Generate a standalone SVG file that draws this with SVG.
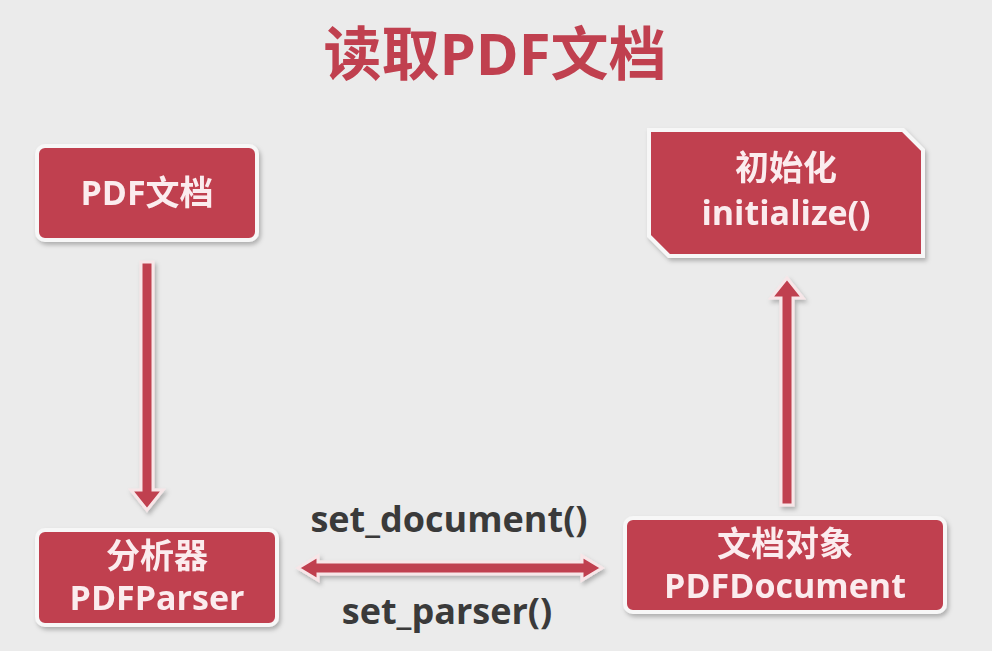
<svg xmlns="http://www.w3.org/2000/svg" width="992" height="651" viewBox="0 0 992 651">
<style>
.box{fill:#c0404f;stroke:#f7f7f7;stroke-width:4}
.bt{font-family:"Open Sans","Noto Sans CJK SC",sans-serif;font-weight:bold;fill:#fbecee;text-anchor:middle;font-size:34px}
.lbl{font-family:"Open Sans","Noto Sans CJK SC",sans-serif;font-weight:bold;fill:#3a3a3a;text-anchor:middle;font-size:36px}
.arr{fill:#c0404f;stroke:#f7e6e8;stroke-width:3}
</style>
<defs><filter id="sh" x="-10%" y="-10%" width="130%" height="130%"><feDropShadow dx="2" dy="3" stdDeviation="2" flood-color="#000" flood-opacity="0.25"/></filter></defs>
<rect width="992" height="651" fill="#ebebeb"/>
<text x="495" y="75" font-family="'Open Sans','Noto Sans CJK SC',sans-serif" font-weight="bold" font-size="58" fill="#c0404f" text-anchor="middle">读取PDF文档</text>
<g id="connectors">
<g filter="url(#sh)">
<polygon class="arr" points="141,262 153,262 153,490 163,490 147,510 131,490 141,490"/>
<polygon class="arr" points="781,505 793,505 793,298 803,298 787,278 771,298 781,298"/>
<polygon class="arr" points="298,568 318,556 318,562 582,562 582,556 602,568 582,580 582,574 318,574 318,580"/>
</g>
<text class="lbl" x="449" y="532">set_document()</text>
<text class="lbl" x="447" y="624">set_parser()</text>
</g>
<g id="n1" filter="url(#sh)"><rect class="box" x="37" y="146" width="220" height="94" rx="8"/><text class="bt" x="147" y="205">PDF文档</text></g>
<g id="n2" filter="url(#sh)"><rect class="box" x="37" y="530" width="240" height="95" rx="8"/><text class="bt" x="157" y="568">分析器</text><text class="bt" x="157" y="610">PDFParser</text></g>
<g id="n3" filter="url(#sh)"><rect class="box" x="625" y="518" width="320" height="94" rx="8"/><text class="bt" x="785" y="556">文档对象</text><text class="bt" x="785" y="598">PDFDocument</text></g>
<g id="n4" filter="url(#sh)"><polygon class="box" points="649,130 903,130 923,150 923,256 669,256 649,236"/><text class="bt" x="786" y="180">初始化</text><text class="bt" x="786" y="225">initialize()</text></g>
</svg>
